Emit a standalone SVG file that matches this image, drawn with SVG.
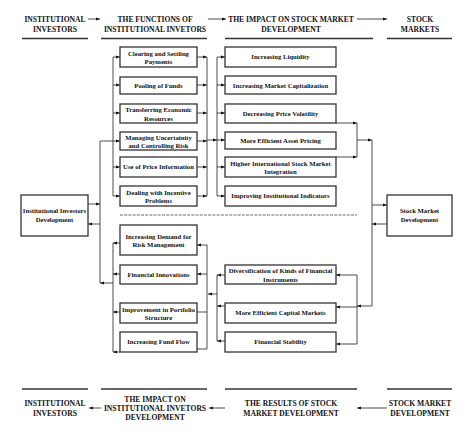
<svg xmlns="http://www.w3.org/2000/svg" width="474" height="436" viewBox="0 0 474 436">
<defs>
<marker id="a" markerWidth="4" markerHeight="4" refX="4" refY="2" orient="auto" markerUnits="userSpaceOnUse"><path d="M0,0.4 L4,2 L0,3.6z" fill="#111"/></marker>
<style>
text{font-family:"Liberation Serif","Times New Roman",serif;font-weight:bold;fill:#111;text-anchor:middle}
.h{font-size:7.6px}
.n{font-size:6.7px}
rect{fill:#fff;stroke:#333;stroke-width:1.3}
.c path{fill:none;stroke:#222;stroke-width:0.8}
.ar{marker-end:url(#a)}
.ul{stroke:#333;stroke-width:1.3}
</style>
</defs>
<rect x="0" y="0" width="474" height="436" style="fill:#fff;stroke:none"/>

<g id="header">
<text class="h" x="55" y="22">INSTITUTIONAL</text>
<text class="h" x="55" y="31.5">INVESTORS</text>
<text class="h" x="155" y="22">THE FUNCTIONS OF</text>
<text class="h" x="155" y="31.5">INSTITUTIONAL INVETORS</text>
<text class="h" x="291" y="22">THE IMPACT ON STOCK MARKET</text>
<text class="h" x="291" y="31.5">DEVELOPMENT</text>
<text class="h" x="420" y="22">STOCK</text>
<text class="h" x="420" y="31.5">MARKETS</text>
<path class="ul" d="M22,38.5H88M101,38.5H207M225,38.5H373M387,38.5H452"/>
</g>

<g id="footer">
<path class="ul" d="M22,389H88M101,389H207M225,389H357M387,389H452"/>
<text class="h" x="55" y="406">INSTITUTIONAL</text>
<text class="h" x="55" y="415.5">INVESTORS</text>
<text class="h" x="155" y="402">THE IMPACT ON</text>
<text class="h" x="155" y="411">INSTITUTIONAL INVETORS</text>
<text class="h" x="155" y="420">DEVELOPMENT</text>
<text class="h" x="291" y="406">THE RESULTS OF STOCK</text>
<text class="h" x="291" y="415.5">MARKET DEVELOPMENT</text>
<text class="h" x="420" y="406">STOCK MARKET</text>
<text class="h" x="420" y="415.5">DEVELOPMENT</text>
</g>

<g class="c" id="connectors">
<path class="ar" d="M88,19H100"/>
<path class="ar" d="M208,19H226"/>
<path class="ar" d="M357,19H387"/>
<path class="ar" d="M101,408H89"/>
<path class="ar" d="M225,408H209"/>
<path class="ar" d="M387,408H357"/>

<path class="ar" d="M88,204H100"/>
<path d="M100,141V283"/>
<path class="ar" d="M100,141H120"/>
<path d="M113,57V196"/>
<path class="ar" d="M113,57H120"/>
<path class="ar" d="M113,85H120"/>
<path class="ar" d="M113,113H120"/>
<path class="ar" d="M113,167H120"/>
<path class="ar" d="M113,196H120"/>

<path class="ar" d="M197,57H207"/>
<path class="ar" d="M197,85H207"/>
<path class="ar" d="M197,113H207"/>
<path class="ar" d="M197,141H207"/>
<path class="ar" d="M197,167H207"/>
<path class="ar" d="M197,196H207"/>
<path d="M207,57V196"/>
<path class="ar" d="M207,140H217"/>
<path d="M217,57V196"/>
<path class="ar" d="M217,57H225"/>
<path class="ar" d="M217,85H225"/>
<path class="ar" d="M217,113H225"/>
<path class="ar" d="M217,140H225"/>
<path class="ar" d="M217,167H225"/>
<path class="ar" d="M217,196H225"/>

<path class="ar" d="M336,123H357"/>
<path class="ar" d="M336,157H357"/>
<path d="M357,123V157"/>
<path class="ar" d="M357,140H372"/>
<path d="M372,140V306"/>
<path class="ar" d="M372,205H387"/>
<path class="ar" d="M387,224H372"/>
<path class="ar" d="M372,306H357"/>
<path d="M357,275V344"/>
<path class="ar" d="M357,275H336"/>
<path class="ar" d="M357,307H336"/>
<path class="ar" d="M357,344H336"/>

<path class="ar" d="M225,275H217"/>
<path class="ar" d="M225,306H217"/>
<path class="ar" d="M225,341H217"/>
<path d="M217,275V341"/>
<path class="ar" d="M217,294H208"/>
<path d="M207,245V349"/>
<path class="ar" d="M207,245H197"/>
<path class="ar" d="M207,274H197"/>
<path d="M207,312H197"/>
<path d="M207,349H197"/>

<path class="ar" d="M120,243H113"/>
<path class="ar" d="M120,274H113"/>
<path class="ar" d="M120,312H113"/>
<path class="ar" d="M120,352H113"/>
<path d="M113,243V352"/>
<path class="ar" d="M113,283H100"/>
<path class="ar" d="M100,224H88"/>

<path d="M120,215H357" style="stroke:#444;stroke-dasharray:3 1.2"/>
</g>

<g id="iid"><rect x="21" y="195" width="67" height="41"/><text class="n" x="54.5" y="213">Institutional Investors</text><text class="n" x="54.5" y="221.5">Development</text></g>
<g id="smd"><rect x="387" y="195" width="65" height="41"/><text class="n" x="419.5" y="213">Stock Market</text><text class="n" x="419.5" y="221.5">Development</text></g>

<g id="f1"><rect x="120" y="47" width="77" height="20"/><text class="n" x="158.5" y="55.5">Clearing and Settling</text><text class="n" x="158.5" y="64">Payments</text></g>
<g id="f2"><rect x="120" y="77" width="77" height="17"/><text class="n" x="158.5" y="88">Pooling of Funds</text></g>
<g id="f3"><rect x="120" y="104" width="77" height="19"/><text class="n" x="158.5" y="112">Transferring Economic</text><text class="n" x="158.5" y="120.5">Resources</text></g>
<g id="f4"><rect x="120" y="132" width="77" height="18"/><text class="n" x="158.5" y="139.5">Managing Uncertainity</text><text class="n" x="158.5" y="148">and Controlling Risk</text></g>
<g id="f5"><rect x="120" y="157" width="77" height="20"/><text class="n" x="158.5" y="169">Use of Price Information</text></g>
<g id="f6"><rect x="120" y="186" width="77" height="20"/><text class="n" x="158.5" y="194.5">Dealing with Incentive</text><text class="n" x="158.5" y="203">Problems</text></g>

<g id="i1"><rect x="225" y="47" width="111" height="20"/><text class="n" x="280.5" y="59">Increasing Liquidity</text></g>
<g id="i2"><rect x="225" y="76" width="111" height="18"/><text class="n" x="280.5" y="87.5">Increasing Market Capitalization</text></g>
<g id="i3"><rect x="225" y="104" width="111" height="19"/><text class="n" x="280.5" y="116">Decreasing Price Volatility</text></g>
<g id="i4"><rect x="225" y="132" width="111" height="17"/><text class="n" x="280.5" y="143">More Efficient Asset Pricing</text></g>
<g id="i5"><rect x="225" y="157" width="111" height="20"/><text class="n" x="280.5" y="165.5">Higher International Stock Market</text><text class="n" x="280.5" y="174">Integration</text></g>
<g id="i6"><rect x="225" y="186" width="111" height="20"/><text class="n" x="280.5" y="198">Improving Institutional Indicators</text></g>

<g id="b1"><rect x="120" y="225" width="77" height="30"/><text class="n" x="158.5" y="238.5">Increasing Demand for</text><text class="n" x="158.5" y="247">Risk Management</text></g>
<g id="b2"><rect x="120" y="265" width="77" height="19"/><text class="n" x="158.5" y="277">Financial Innovations</text></g>
<g id="b3"><rect x="120" y="303" width="77" height="20"/><text class="n" x="158.5" y="311.5">Improvement in Portfolio</text><text class="n" x="158.5" y="320">Structure</text></g>
<g id="b4"><rect x="120" y="332" width="77" height="20"/><text class="n" x="158.5" y="344">Increasing Fund Flow</text></g>

<g id="r1"><rect x="225" y="265" width="111" height="19"/><text class="n" x="280.5" y="273">Diversification of Kinds of Financial</text><text class="n" x="280.5" y="281.5">Instruments</text></g>
<g id="r2"><rect x="225" y="303" width="111" height="20"/><text class="n" x="280.5" y="315">More Efficient Capital Markets</text></g>
<g id="r3"><rect x="225" y="332" width="111" height="20"/><text class="n" x="280.5" y="344">Financial Stability</text></g>
</svg>
